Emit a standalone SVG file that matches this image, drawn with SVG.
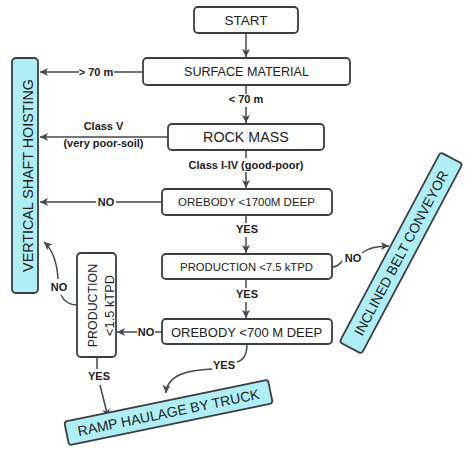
<svg xmlns="http://www.w3.org/2000/svg" width="474" height="455" viewBox="0 0 474 455">
<style>
.box{fill:#ffffff;stroke:#3b3e42;stroke-width:1.8}
.cy{fill:#b0eef5;stroke:#3b3e42;stroke-width:1.8}
.t{font-family:"Liberation Sans",Arial,sans-serif;fill:#222;text-anchor:middle}
.lb{font-family:"Liberation Sans",Arial,sans-serif;fill:#222;font-weight:bold;font-size:11px;text-anchor:middle}
.c{fill:none;stroke:#46494d;stroke-width:1.5}
</style>
<defs>
<marker id="ah" viewBox="0 0 10 10" refX="10" refY="5" markerWidth="9" markerHeight="8" markerUnits="userSpaceOnUse" orient="auto">
<path d="M0,0 L10,5 L0,10 L2.5,5 Z" fill="#46494d"/>
</marker>
</defs>
<rect width="474" height="455" fill="#ffffff"/>

<g id="connectors">
<path class="c" d="M246,33 V57" marker-end="url(#ah)"/>
<path class="c" d="M246,85 V94"/>
<text class="lb" x="246" y="103">&lt; 70 m</text>
<path class="c" d="M246,107 V123" marker-end="url(#ah)"/>
<path class="c" d="M246,150 V158"/>
<text class="lb" x="246" y="169">Class I-IV (good-poor)</text>
<path class="c" d="M246,172 V188" marker-end="url(#ah)"/>
<path class="c" d="M246,215 V223"/>
<text class="lb" x="247" y="233">YES</text>
<path class="c" d="M246,237 V253" marker-end="url(#ah)"/>
<path class="c" d="M246,279 V288"/>
<text class="lb" x="247" y="298">YES</text>
<path class="c" d="M246,302 V318" marker-end="url(#ah)"/>

<path class="c" d="M143,72 H114"/>
<text class="lb" x="96" y="76">&gt; 70 m</text>
<path class="c" d="M79,72 H40" marker-end="url(#ah)"/>

<path class="c" d="M168,137 H40" marker-end="url(#ah)"/>
<text class="lb" x="103.5" y="130">Class V</text>
<text class="lb" x="103.5" y="147">(very poor-soil)</text>

<path class="c" d="M162,202 H116"/>
<text class="lb" x="106" y="206">NO</text>
<path class="c" d="M96,202 H40" marker-end="url(#ah)"/>

<path class="c" d="M162,332 H155"/>
<text class="lb" x="146" y="336">NO</text>
<path class="c" d="M137,332 H117" marker-end="url(#ah)"/>

<path class="c" d="M77,305 C69,305 64,301 61,295"/>
<text class="lb" x="59" y="291">NO</text>
<path class="c" d="M58,279 C57,262 53,250 44,242" marker-end="url(#ah)"/>

<path class="c" d="M97,357 V369"/>
<text class="lb" x="99" y="380">YES</text>
<path class="c" d="M100,385 L108,417" marker-end="url(#ah)"/>

<path class="c" d="M247,344 C247,354 244,360 237,362"/>
<text class="lb" x="224" y="369">YES</text>
<path class="c" d="M212,369 C190,370 167,374 166,393" marker-end="url(#ah)"/>

<path class="c" d="M332,267 C337,267 340,264 342,261"/>
<text class="lb" x="353" y="262">NO</text>
<path class="c" d="M362,253 C368,248 376,246 389,246" marker-end="url(#ah)"/>
</g>

<g id="start">
<rect class="box" x="194" y="7" width="104" height="26" rx="4"/>
<text class="t" x="246" y="25" font-size="13.5">START</text>
</g>
<g id="surface">
<rect class="box" x="143" y="58" width="207" height="27" rx="4"/>
<text class="t" x="246.5" y="76" font-size="12.6">SURFACE MATERIAL</text>
</g>
<g id="rock">
<rect class="box" x="168" y="124" width="156" height="26" rx="4"/>
<text class="t" x="246" y="142" font-size="14.3">ROCK MASS</text>
</g>
<g id="orebody1700">
<rect class="box" x="162" y="189" width="170" height="26" rx="4"/>
<text class="t" x="246.5" y="206" font-size="11.5">OREBODY &lt;1700M DEEP</text>
</g>
<g id="production75">
<rect class="box" x="162" y="254" width="170" height="25" rx="4"/>
<text class="t" x="246.5" y="271" font-size="11.3">PRODUCTION &lt;7.5 kTPD</text>
</g>
<g id="orebody700">
<rect class="box" x="162" y="319" width="170" height="25" rx="4"/>
<text class="t" x="246.5" y="336.5" font-size="13">OREBODY &lt;700 M DEEP</text>
</g>
<g id="production15">
<rect class="box" x="77" y="253" width="39" height="104" rx="4"/>
<text class="t" transform="translate(97,305.5) rotate(-90)" font-size="12.4">PRODUCTION</text>
<text class="t" transform="translate(113.5,305.5) rotate(-90)" font-size="12.8">&lt;1.5 kTPD</text>
</g>
<g id="vertical-shaft">
<rect class="cy" x="12" y="58" width="26" height="235" rx="4"/>
<text class="t" transform="translate(32.5,175.5) rotate(-90)" font-size="14.3">VERTICAL SHAFT HOISTING</text>
</g>
<g id="ramp">
<g transform="translate(168.5,412.5) rotate(-11.7)">
<rect class="cy" x="-104" y="-12" width="208" height="24" rx="3"/>
<text class="t" x="0" y="5" font-size="14">RAMP HAULAGE BY TRUCK</text>
</g>
</g>
<g id="belt">
<g transform="translate(401,253) rotate(-62)">
<rect class="cy" x="-107.5" y="-12.5" width="215" height="25" rx="3"/>
<text class="t" x="0" y="5" font-size="13.8">INCLINED BELT CONVEYOR</text>
</g>
</g>
</svg>
